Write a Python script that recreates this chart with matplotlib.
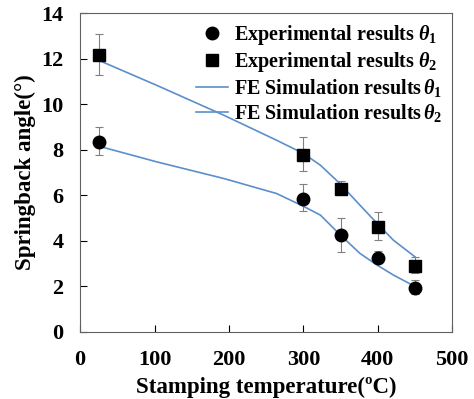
import matplotlib
matplotlib.use("Agg")
import matplotlib.pyplot as plt
import numpy as np

plt.rcParams['font.family'] = ['Liberation Serif', 'DejaVu Serif']
plt.rcParams['mathtext.fontset'] = 'custom'
plt.rcParams['mathtext.it'] = 'Liberation Serif:italic:bold'
plt.rcParams['mathtext.rm'] = 'Liberation Serif:bold'
plt.rcParams['mathtext.bf'] = 'Liberation Serif:bold'

temps_exp = [25, 300, 350, 400, 450]
exp_theta1 = [8.35, 5.85, 4.25, 3.25, 1.95]
exp_theta1_lo = [7.75, 5.3, 3.5, 3.1, 1.65]
exp_theta1_hi = [9.0, 6.5, 5.0, 3.55, 2.3]
exp_theta2 = [12.15, 7.75, 6.3, 4.6, 2.9]
exp_theta2_lo = [11.3, 7.05, 6.05, 4.05, 2.6]
exp_theta2_hi = [13.1, 8.55, 6.65, 5.25, 3.3]

temps_sim = [25, 103, 193, 264, 300, 323, 349, 376, 399, 421, 450]
sim_theta1 = [8.16, 7.47, 6.74, 6.08, 5.52, 5.13, 4.28, 3.45, 2.94, 2.5, 2.0]
sim_theta2 = [11.93, 10.83, 9.52, 8.42, 7.84, 7.32, 6.52, 5.57, 4.77, 4.03, 3.3]

fig = plt.figure(figsize=(4.74, 3.99), dpi=100)
ax = fig.add_axes([0.169, 0.168, 0.785, 0.799])

err1 = [np.subtract(exp_theta1, exp_theta1_lo), np.subtract(exp_theta1_hi, exp_theta1)]
err2 = [np.subtract(exp_theta2, exp_theta2_lo), np.subtract(exp_theta2_hi, exp_theta2)]

ax.errorbar(temps_exp, exp_theta1, yerr=err1, fmt='none', ecolor='#808080', elinewidth=0.8, capsize=3, capthick=0.8, zorder=2)
ax.errorbar(temps_exp, exp_theta2, yerr=err2, fmt='none', ecolor='#808080', elinewidth=0.8, capsize=3, capthick=0.8, zorder=2)
ax.plot(temps_exp, exp_theta1, 'o', color='black', markersize=9, label=r'Experimental results $\theta_1$', zorder=4)
ax.plot(temps_exp, exp_theta2, 's', color='black', markersize=8.5, label=r'Experimental results $\theta_2$', zorder=4)
ax.plot(temps_sim, sim_theta1, '-', color='#5B8FCB', lw=1.2, label=r'FE Simulation results$\,\theta_1$', zorder=3)
ax.plot(temps_sim, sim_theta2, '-', color='#5B8FCB', lw=1.2, label=r'FE Simulation results$\,\theta_2$', zorder=3)

ax.set_xlim(0, 500)
ax.set_ylim(0, 14)
ax.set_xticks([0, 100, 200, 300, 400, 500])
ax.set_yticks([0, 2, 4, 6, 8, 10, 12, 14])
ax.tick_params(direction='in', labelsize=16, length=5, width=0.8)
ax.tick_params(axis='x', pad=13)
ax.tick_params(axis='y', pad=12)
for lab in ax.get_xticklabels() + ax.get_yticklabels():
    lab.set_fontweight('bold')
for s in ax.spines.values():
    s.set_color('#606060')
    s.set_linewidth(0.8)

ax.set_xlabel('Stamping temperature(ºC)', fontsize=16.5, fontweight='bold', labelpad=5)
ax.set_ylabel('Springback angle(°)', fontsize=16.5, fontweight='bold', labelpad=4)

leg = ax.legend(loc='upper right', frameon=False, prop={'weight': 'bold', 'size': 14.5},
                handlelength=1.6, handletextpad=0.3, labelspacing=0.15, borderaxespad=0.1)

fig.savefig('out.png', dpi=100)
